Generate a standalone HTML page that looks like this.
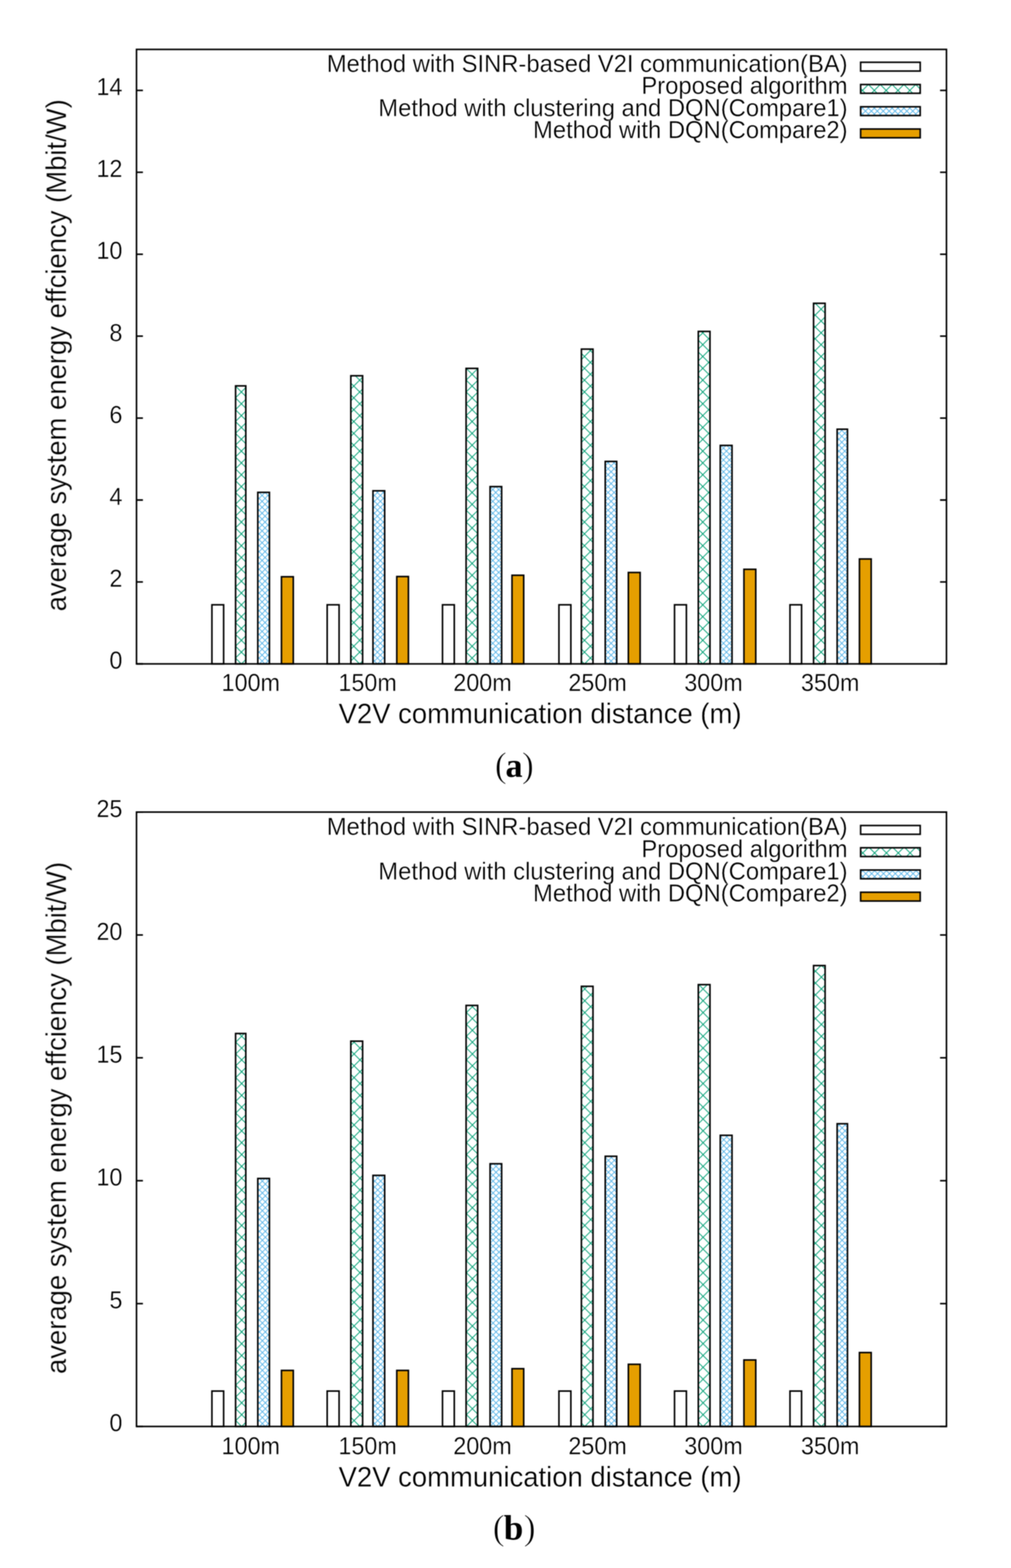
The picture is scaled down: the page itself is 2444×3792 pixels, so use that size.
<!DOCTYPE html>
<html><head><meta charset="utf-8"><title>Figure</title>
<style>
html,body{margin:0;padding:0;background:#fff;}
body{width:2444px;height:3792px;overflow:hidden;}
svg{display:block;}
.t{font-family:'Liberation Sans', Arial, Helvetica, sans-serif;fill:#000;stroke:#fff;stroke-width:0.6px;}
.tk{font-size:56.5px;}
.lg{font-size:57.5px;}
.lb{font-size:66.4px;}
.cp{font-family:'Liberation Serif', 'Times New Roman', serif;font-size:87px;fill:#000;}
.pr{stroke:#fff;stroke-width:1.6px;}
</style></head><body>
<svg width="2444" height="3792" viewBox="0 0 2444 3792">
<rect x="0" y="0" width="2444" height="3792" fill="#fff"/>
<defs>
<pattern id="pg0" patternUnits="userSpaceOnUse" x="583.5" y="947.9" width="28.6" height="28.6"><path d="M0 0L28.6 28.6M0 28.6L28.6 0M-3 3L3 -3M25.6 31.6L31.6 25.6M-3 25.6L3 31.6M25.6 -3L31.6 3" stroke="#009e73" stroke-width="2" fill="none"/></pattern>
<pattern id="pb0" patternUnits="userSpaceOnUse" x="583.5" y="947.9" width="14.3" height="14.3"><path d="M0 0L14.3 14.3M0 14.3L14.3 0M-3 3L3 -3M11.3 17.3L17.3 11.3M-3 11.3L3 17.3M11.3 -3L17.3 3" stroke="#56b4e9" stroke-width="1.9" fill="none"/></pattern>
<pattern id="pg1" patternUnits="userSpaceOnUse" x="584.2" y="3421.2" width="28.6" height="28.6"><path d="M0 0L28.6 28.6M0 28.6L28.6 0M-3 3L3 -3M25.6 31.6L31.6 25.6M-3 25.6L3 31.6M25.6 -3L31.6 3" stroke="#009e73" stroke-width="2" fill="none"/></pattern>
<pattern id="pb1" patternUnits="userSpaceOnUse" x="584.2" y="3421.2" width="14.3" height="14.3"><path d="M0 0L14.3 14.3M0 14.3L14.3 0M-3 3L3 -3M11.3 17.3L17.3 11.3M-3 11.3L3 17.3M11.3 -3L17.3 3" stroke="#56b4e9" stroke-width="1.9" fill="none"/></pattern>
<filter id="bl" x="0" y="0" width="2444" height="3792" filterUnits="userSpaceOnUse" color-interpolation-filters="sRGB"><feGaussianBlur stdDeviation="0.9"/></filter>
</defs>
<g filter="url(#bl)">
<rect x="512.3" y="1462.6" width="28.3" height="142.9" fill="#fff" stroke="#000" stroke-width="3.8"/>
<rect x="569.5" y="933.2" width="24.7" height="672.3" fill="#fff"/><rect x="569.5" y="933.2" width="24.7" height="672.3" fill="url(#pg0)" stroke="#000" stroke-width="3.8"/>
<rect x="623.2" y="1190.7" width="28.1" height="414.8" fill="#fff"/><rect x="623.2" y="1190.7" width="28.1" height="414.8" fill="url(#pb0)" stroke="#000" stroke-width="3.8"/>
<rect x="680.4" y="1394.8" width="28.6" height="210.7" fill="#e69f00" stroke="#000" stroke-width="3.8"/>
<rect x="790.9" y="1462.6" width="28.8" height="142.9" fill="#fff" stroke="#000" stroke-width="3.8"/>
<rect x="848.1" y="908.7" width="28.5" height="696.8" fill="#fff"/><rect x="848.1" y="908.7" width="28.5" height="696.8" fill="url(#pg0)" stroke="#000" stroke-width="3.8"/>
<rect x="901.6" y="1186.9" width="28.3" height="418.6" fill="#fff"/><rect x="901.6" y="1186.9" width="28.3" height="418.6" fill="url(#pb0)" stroke="#000" stroke-width="3.8"/>
<rect x="959.2" y="1394.3" width="28.1" height="211.2" fill="#e69f00" stroke="#000" stroke-width="3.8"/>
<rect x="1069.7" y="1462.6" width="28.5" height="142.9" fill="#fff" stroke="#000" stroke-width="3.8"/>
<rect x="1126.7" y="890.9" width="28" height="714.6" fill="#fff"/><rect x="1126.7" y="890.9" width="28" height="714.6" fill="url(#pg0)" stroke="#000" stroke-width="3.8"/>
<rect x="1184.7" y="1176.8" width="28" height="428.7" fill="#fff"/><rect x="1184.7" y="1176.8" width="28" height="428.7" fill="url(#pb0)" stroke="#000" stroke-width="3.8"/>
<rect x="1237.7" y="1391.2" width="28.3" height="214.3" fill="#e69f00" stroke="#000" stroke-width="3.8"/>
<rect x="1351.2" y="1462.6" width="28.8" height="142.9" fill="#fff" stroke="#000" stroke-width="3.8"/>
<rect x="1405.5" y="844.3" width="28" height="761.2" fill="#fff"/><rect x="1405.5" y="844.3" width="28" height="761.2" fill="url(#pg0)" stroke="#000" stroke-width="3.8"/>
<rect x="1463.1" y="1115.9" width="27.7" height="489.6" fill="#fff"/><rect x="1463.1" y="1115.9" width="27.7" height="489.6" fill="url(#pb0)" stroke="#000" stroke-width="3.8"/>
<rect x="1519" y="1384.5" width="28.5" height="221" fill="#e69f00" stroke="#000" stroke-width="3.8"/>
<rect x="1630.6" y="1462.6" width="28.7" height="142.9" fill="#fff" stroke="#000" stroke-width="3.8"/>
<rect x="1688.1" y="801.5" width="28.2" height="804" fill="#fff"/><rect x="1688.1" y="801.5" width="28.2" height="804" fill="url(#pg0)" stroke="#000" stroke-width="3.8"/>
<rect x="1741.2" y="1077.2" width="28.4" height="528.3" fill="#fff"/><rect x="1741.2" y="1077.2" width="28.4" height="528.3" fill="url(#pb0)" stroke="#000" stroke-width="3.8"/>
<rect x="1798.4" y="1376.8" width="28.6" height="228.7" fill="#e69f00" stroke="#000" stroke-width="3.8"/>
<rect x="1909.7" y="1462.6" width="28" height="142.9" fill="#fff" stroke="#000" stroke-width="3.8"/>
<rect x="1966.7" y="733.5" width="27.9" height="872" fill="#fff"/><rect x="1966.7" y="733.5" width="27.9" height="872" fill="url(#pg0)" stroke="#000" stroke-width="3.8"/>
<rect x="2023.7" y="1038" width="25" height="567.5" fill="#fff"/><rect x="2023.7" y="1038" width="25" height="567.5" fill="url(#pb0)" stroke="#000" stroke-width="3.8"/>
<rect x="2077.6" y="1351.8" width="28.4" height="253.7" fill="#e69f00" stroke="#000" stroke-width="3.8"/>
<rect x="330" y="119.5" width="1958" height="1486" fill="none" stroke="#000" stroke-width="3.8"/>
<path d="M330 1605.5H345.5M2288 1605.5H2272.5" stroke="#000" stroke-width="3.8"/><text class="t tk" transform="translate(296 1617.1) scale(1 1.04)" text-anchor="end">0</text>
<path d="M330 1407.37H345.5M2288 1407.37H2272.5" stroke="#000" stroke-width="3.8"/><text class="t tk" transform="translate(296 1418.97) scale(1 1.04)" text-anchor="end">2</text>
<path d="M330 1209.23H345.5M2288 1209.23H2272.5" stroke="#000" stroke-width="3.8"/><text class="t tk" transform="translate(296 1220.83) scale(1 1.04)" text-anchor="end">4</text>
<path d="M330 1011.1H345.5M2288 1011.1H2272.5" stroke="#000" stroke-width="3.8"/><text class="t tk" transform="translate(296 1022.7) scale(1 1.04)" text-anchor="end">6</text>
<path d="M330 812.97H345.5M2288 812.97H2272.5" stroke="#000" stroke-width="3.8"/><text class="t tk" transform="translate(296 824.57) scale(1 1.04)" text-anchor="end">8</text>
<path d="M330 614.83H345.5M2288 614.83H2272.5" stroke="#000" stroke-width="3.8"/><text class="t tk" transform="translate(296 626.43) scale(1 1.04)" text-anchor="end">10</text>
<path d="M330 416.7H345.5M2288 416.7H2272.5" stroke="#000" stroke-width="3.8"/><text class="t tk" transform="translate(296 428.3) scale(1 1.04)" text-anchor="end">12</text>
<path d="M330 218.57H345.5M2288 218.57H2272.5" stroke="#000" stroke-width="3.8"/><text class="t tk" transform="translate(296 230.17) scale(1 1.04)" text-anchor="end">14</text>
<text class="t tk" transform="translate(606.24 1671) scale(1 1.04)" text-anchor="middle">100m</text>
<text class="t tk" transform="translate(888.67 1671) scale(1 1.04)" text-anchor="middle">150m</text>
<text class="t tk" transform="translate(1166.41 1671) scale(1 1.04)" text-anchor="middle">200m</text>
<text class="t tk" transform="translate(1444.55 1671) scale(1 1.04)" text-anchor="middle">250m</text>
<text class="t tk" transform="translate(1724.79 1671) scale(1 1.04)" text-anchor="middle">300m</text>
<text class="t tk" transform="translate(2006.84 1671) scale(1 1.04)" text-anchor="middle">350m</text>
<text class="t lb" transform="translate(1305.5 1749.3) scale(1 1.04)" text-anchor="middle">V2V communication distance (m)</text>
<text class="t lb" transform="translate(160 859.3) rotate(-90) scale(1 1.04)" text-anchor="middle">average system energy effciency (Mbit/W)</text>
<text class="t lg" transform="translate(2049 173.6) scale(1 1.04)" text-anchor="end">Method with SINR-based V2I communication(BA)</text>
<rect x="2080.5" y="150.6" width="144" height="21.2" fill="#fff" stroke="#000" stroke-width="3.8"/>
<text class="t lg" transform="translate(2049 227.2) scale(1 1.04)" text-anchor="end">Proposed algorithm</text>
<rect x="2080.5" y="204.4" width="144" height="21.2" fill="#fff"/><rect x="2080.5" y="204.4" width="144" height="21.2" fill="url(#pg0)" stroke="#000" stroke-width="3.8"/>
<text class="t lg" transform="translate(2049 280.8) scale(1 1.04)" text-anchor="end">Method with clustering and DQN(Compare1)</text>
<rect x="2080.5" y="258.2" width="144" height="21.2" fill="#fff"/><rect x="2080.5" y="258.2" width="144" height="21.2" fill="url(#pb0)" stroke="#000" stroke-width="3.8"/>
<text class="t lg" transform="translate(2049 334.4) scale(1 1.04)" text-anchor="end">Method with DQN(Compare2)</text>
<rect x="2080.5" y="312" width="144" height="21.2" fill="#e69f00" stroke="#000" stroke-width="3.8"/>
<text class="cp" y="1878.5"><tspan class="pr" x="1196.2">(</tspan><tspan x="1222.1" font-weight="bold" font-size="82.5">a</tspan><tspan class="pr" x="1261.5">)</tspan></text>
<rect x="512.3" y="3364.1" width="28.3" height="85.6" fill="#fff" stroke="#000" stroke-width="3.8"/>
<rect x="569.5" y="2499.4" width="24.7" height="950.3" fill="#fff"/><rect x="569.5" y="2499.4" width="24.7" height="950.3" fill="url(#pg1)" stroke="#000" stroke-width="3.8"/>
<rect x="623.2" y="2850" width="28.1" height="599.7" fill="#fff"/><rect x="623.2" y="2850" width="28.1" height="599.7" fill="url(#pb1)" stroke="#000" stroke-width="3.8"/>
<rect x="680.4" y="3314.2" width="28.6" height="135.5" fill="#e69f00" stroke="#000" stroke-width="3.8"/>
<rect x="790.9" y="3364.1" width="28.8" height="85.6" fill="#fff" stroke="#000" stroke-width="3.8"/>
<rect x="848.1" y="2517.9" width="28.5" height="931.8" fill="#fff"/><rect x="848.1" y="2517.9" width="28.5" height="931.8" fill="url(#pg1)" stroke="#000" stroke-width="3.8"/>
<rect x="901.6" y="2842.5" width="28.3" height="607.2" fill="#fff"/><rect x="901.6" y="2842.5" width="28.3" height="607.2" fill="url(#pb1)" stroke="#000" stroke-width="3.8"/>
<rect x="959.2" y="3314.2" width="28.1" height="135.5" fill="#e69f00" stroke="#000" stroke-width="3.8"/>
<rect x="1069.7" y="3364.1" width="28.5" height="85.6" fill="#fff" stroke="#000" stroke-width="3.8"/>
<rect x="1126.7" y="2431.5" width="28" height="1018.2" fill="#fff"/><rect x="1126.7" y="2431.5" width="28" height="1018.2" fill="url(#pg1)" stroke="#000" stroke-width="3.8"/>
<rect x="1184.7" y="2814.4" width="28" height="635.3" fill="#fff"/><rect x="1184.7" y="2814.4" width="28" height="635.3" fill="url(#pb1)" stroke="#000" stroke-width="3.8"/>
<rect x="1237.7" y="3310" width="28.3" height="139.7" fill="#e69f00" stroke="#000" stroke-width="3.8"/>
<rect x="1351.2" y="3364.1" width="28.8" height="85.6" fill="#fff" stroke="#000" stroke-width="3.8"/>
<rect x="1405.5" y="2385.3" width="28" height="1064.4" fill="#fff"/><rect x="1405.5" y="2385.3" width="28" height="1064.4" fill="url(#pg1)" stroke="#000" stroke-width="3.8"/>
<rect x="1463.1" y="2796.3" width="27.7" height="653.4" fill="#fff"/><rect x="1463.1" y="2796.3" width="27.7" height="653.4" fill="url(#pb1)" stroke="#000" stroke-width="3.8"/>
<rect x="1519" y="3299.4" width="28.5" height="150.3" fill="#e69f00" stroke="#000" stroke-width="3.8"/>
<rect x="1630.6" y="3364.1" width="28.7" height="85.6" fill="#fff" stroke="#000" stroke-width="3.8"/>
<rect x="1688.1" y="2381.2" width="28.2" height="1068.5" fill="#fff"/><rect x="1688.1" y="2381.2" width="28.2" height="1068.5" fill="url(#pg1)" stroke="#000" stroke-width="3.8"/>
<rect x="1741.2" y="2745.6" width="28.4" height="704.1" fill="#fff"/><rect x="1741.2" y="2745.6" width="28.4" height="704.1" fill="url(#pb1)" stroke="#000" stroke-width="3.8"/>
<rect x="1798.4" y="3288.9" width="28.6" height="160.8" fill="#e69f00" stroke="#000" stroke-width="3.8"/>
<rect x="1909.7" y="3364.1" width="28" height="85.6" fill="#fff" stroke="#000" stroke-width="3.8"/>
<rect x="1966.7" y="2335.1" width="27.9" height="1114.6" fill="#fff"/><rect x="1966.7" y="2335.1" width="27.9" height="1114.6" fill="url(#pg1)" stroke="#000" stroke-width="3.8"/>
<rect x="2023.7" y="2717.6" width="25" height="732.1" fill="#fff"/><rect x="2023.7" y="2717.6" width="25" height="732.1" fill="url(#pb1)" stroke="#000" stroke-width="3.8"/>
<rect x="2077.6" y="3271" width="28.4" height="178.7" fill="#e69f00" stroke="#000" stroke-width="3.8"/>
<rect x="330" y="1963.9" width="1958" height="1485.8" fill="none" stroke="#000" stroke-width="3.8"/>
<path d="M330 3449.7H345.5M2288 3449.7H2272.5" stroke="#000" stroke-width="3.8"/><text class="t tk" transform="translate(296 3461.3) scale(1 1.04)" text-anchor="end">0</text>
<path d="M330 3152.54H345.5M2288 3152.54H2272.5" stroke="#000" stroke-width="3.8"/><text class="t tk" transform="translate(296 3164.14) scale(1 1.04)" text-anchor="end">5</text>
<path d="M330 2855.38H345.5M2288 2855.38H2272.5" stroke="#000" stroke-width="3.8"/><text class="t tk" transform="translate(296 2866.98) scale(1 1.04)" text-anchor="end">10</text>
<path d="M330 2558.22H345.5M2288 2558.22H2272.5" stroke="#000" stroke-width="3.8"/><text class="t tk" transform="translate(296 2569.82) scale(1 1.04)" text-anchor="end">15</text>
<path d="M330 2261.06H345.5M2288 2261.06H2272.5" stroke="#000" stroke-width="3.8"/><text class="t tk" transform="translate(296 2272.66) scale(1 1.04)" text-anchor="end">20</text>
<path d="M330 1963.9H345.5M2288 1963.9H2272.5" stroke="#000" stroke-width="3.8"/><text class="t tk" transform="translate(296 1975.5) scale(1 1.04)" text-anchor="end">25</text>
<text class="t tk" transform="translate(606.24 3516.8) scale(1 1.04)" text-anchor="middle">100m</text>
<text class="t tk" transform="translate(888.67 3516.8) scale(1 1.04)" text-anchor="middle">150m</text>
<text class="t tk" transform="translate(1166.41 3516.8) scale(1 1.04)" text-anchor="middle">200m</text>
<text class="t tk" transform="translate(1444.55 3516.8) scale(1 1.04)" text-anchor="middle">250m</text>
<text class="t tk" transform="translate(1724.79 3516.8) scale(1 1.04)" text-anchor="middle">300m</text>
<text class="t tk" transform="translate(2006.84 3516.8) scale(1 1.04)" text-anchor="middle">350m</text>
<text class="t lb" transform="translate(1305.5 3595.1) scale(1 1.04)" text-anchor="middle">V2V communication distance (m)</text>
<text class="t lb" transform="translate(160 2703.6) rotate(-90) scale(1 1.04)" text-anchor="middle">average system energy effciency (Mbit/W)</text>
<text class="t lg" transform="translate(2049 2019.4) scale(1 1.04)" text-anchor="end">Method with SINR-based V2I communication(BA)</text>
<rect x="2080.5" y="1996.4" width="144" height="21.2" fill="#fff" stroke="#000" stroke-width="3.8"/>
<text class="t lg" transform="translate(2049 2073) scale(1 1.04)" text-anchor="end">Proposed algorithm</text>
<rect x="2080.5" y="2050.2" width="144" height="21.2" fill="#fff"/><rect x="2080.5" y="2050.2" width="144" height="21.2" fill="url(#pg1)" stroke="#000" stroke-width="3.8"/>
<text class="t lg" transform="translate(2049 2126.6) scale(1 1.04)" text-anchor="end">Method with clustering and DQN(Compare1)</text>
<rect x="2080.5" y="2104" width="144" height="21.2" fill="#fff"/><rect x="2080.5" y="2104" width="144" height="21.2" fill="url(#pb1)" stroke="#000" stroke-width="3.8"/>
<text class="t lg" transform="translate(2049 2180.2) scale(1 1.04)" text-anchor="end">Method with DQN(Compare2)</text>
<rect x="2080.5" y="2157.8" width="144" height="21.2" fill="#e69f00" stroke="#000" stroke-width="3.8"/>
<text class="cp" y="3722.8"><tspan class="pr" x="1191.3">(</tspan><tspan x="1217.7" font-weight="bold" font-size="85">b</tspan><tspan class="pr" x="1265.8">)</tspan></text>
</g>
</svg>
</body></html>
